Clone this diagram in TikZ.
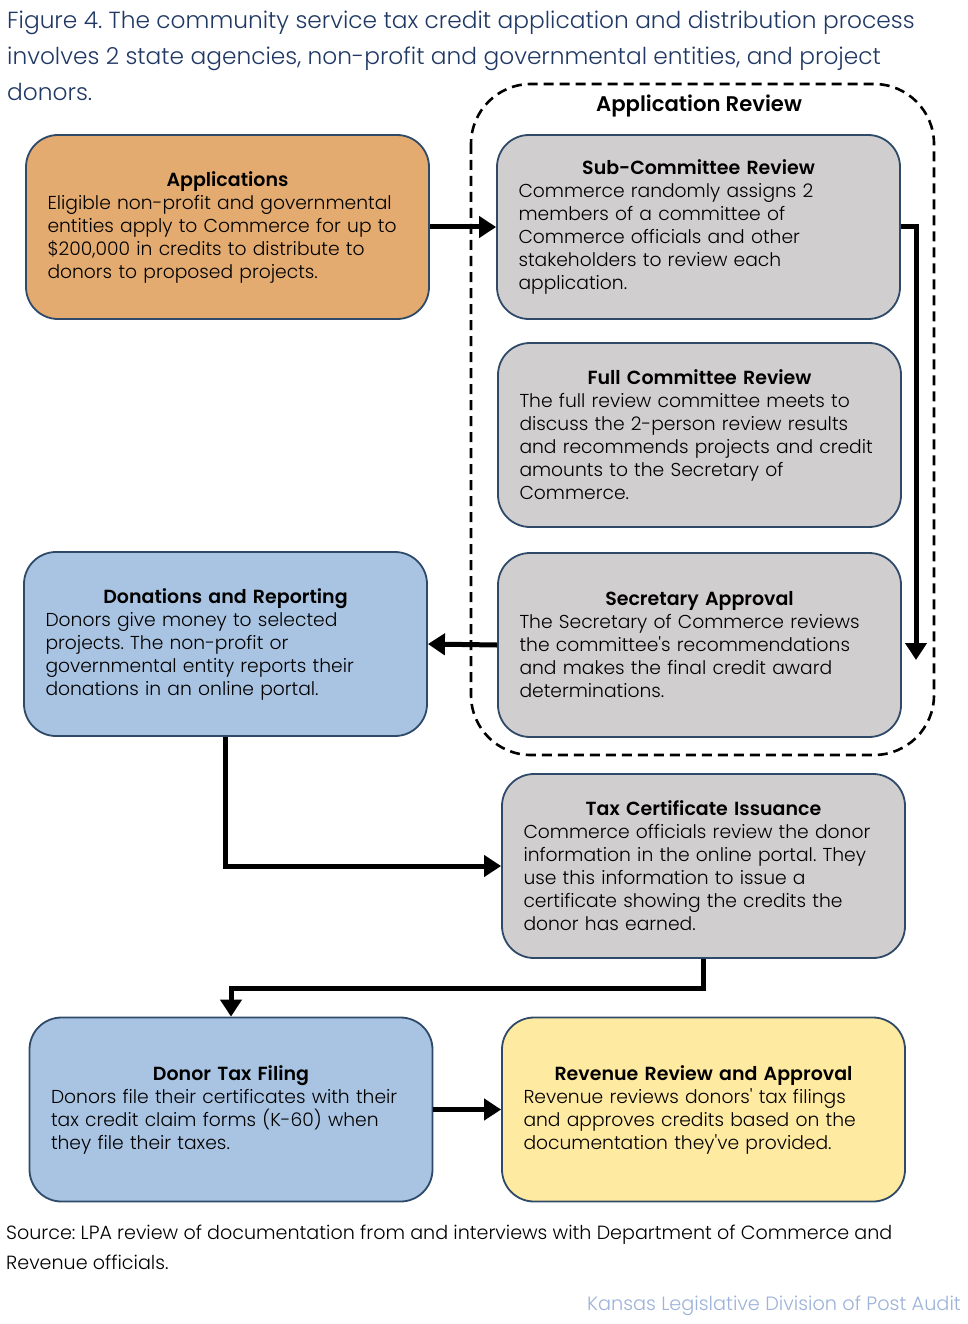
\documentclass[tikz,border=0pt]{standalone}
\usepackage{fontspec}
\setmainfont{Poppins}[UprightFont=* Light, BoldFont=* SemiBold]
\usetikzlibrary{arrows.meta}
\frenchspacing
\definecolor{bordc}{HTML}{2E4A68}
\definecolor{orangec}{HTML}{E3AB6F}
\definecolor{greyc}{HTML}{D0CECE}
\definecolor{bluec}{HTML}{A9C4E2}
\definecolor{yellowc}{HTML}{FFEAA1}
\definecolor{titlec}{HTML}{203864}
\definecolor{footc}{HTML}{9CB2D8}
\tikzset{
  box/.style={draw=bordc, line width=1.8pt, rounded corners=32pt,
    minimum width=403pt, minimum height=184pt, text width=360pt,
    inner sep=0pt, font=\fontsize{18.7}{23}\selectfont},
  conn/.style={line width=5pt, -{Triangle[length=17pt,width=21pt]}},
  grp/.style={draw, line width=2.6pt, dash pattern=on 10pt off 6pt, rounded corners=60pt},
  hd/.style={font=\fontsize{21.2}{23}\selectfont\bfseries}
}
\newcommand{\bt}[1]{\lineskiplimit=-50pt\centering{\fontsize{19}{23}\selectfont\bfseries #1}\par\raggedright}
\newcommand{\ap}{\textquotesingle}
\begin{document}
\begin{tikzpicture}[x=1pt,y=-1pt]
\useasboundingbox (0,0) rectangle (968,1324);
% caption
\node[anchor=base west, inner sep=0pt, text=titlec, font=\fontsize{23.3}{36}\selectfont] (cap1) at (7,29) {Figure 4. The community service tax credit application and distribution process};
\node[anchor=base west, inner sep=0pt, text=titlec, font=\fontsize{23.3}{36}\selectfont] (cap2) at (7,65) {involves 2 state agencies, non-profit and governmental entities, and project};
\node[anchor=base west, inner sep=0pt, text=titlec, font=\fontsize{23.3}{36}\selectfont] (cap3) at (7,101) {donors.};
% group
\draw[grp] (471,84) rectangle (934,755);
\node[hd] (grplab) at (699,106) {Application Review};
% boxes
\node[box, fill=orangec] (app) at (227.5,227) {\bt{Applications}
Eligible non-profit and governmental\\
entities apply to Commerce for up to\\
\$200,000 in credits to distribute to\\
donors to proposed projects.};
\node[box, fill=greyc] (sub) at (698.5,227) {\bt{Sub-Committee Review}
Commerce randomly assigns 2\\
members of a committee of\\
Commerce officials and other\\
stakeholders to review each\\
application.};
\node[box, fill=greyc] (full) at (699.5,435) {\bt{Full Committee Review}
The full review committee meets to\\
discuss the 2-person review results\\
and recommends projects and credit\\
amounts to the Secretary of\\
Commerce.};
\node[box, fill=greyc] (sec) at (699.5,645) {\bt{Secretary Approval}
The Secretary of Commerce reviews\\
the committee\ap s recommendations\\
and makes the final credit award\\
determinations.};
\node[box, fill=bluec] (don) at (225.5,644) {\bt{Donations and Reporting}
Donors give money to selected\\
projects. The non-profit or\\
governmental entity reports their\\
donations in an online portal.};
\node[box, fill=greyc] (tax) at (703.5,866) {\bt{Tax Certificate Issuance}
Commerce officials review the donor\\
information in the online portal. They\\
use this information to issue a\\
certificate showing the credits the\\
donor has earned.};
\node[box, fill=bluec] (dtf) at (231,1109.5) {\bt{Donor Tax Filing}
Donors file their certificates with their\\
tax credit claim forms (K-60) when\\
they file their taxes.};
\node[box, fill=yellowc] (rev) at (703.5,1109.5) {\bt{Revenue Review and Approval}
Revenue reviews donors\ap\ tax filings\\
and approves credits based on the\\
documentation they\ap ve provided.};
% connectors
\coordinate (c1) at (916,660);
\draw[conn] (app.east) -- (sub.west);
\draw[conn] (sub.east) -| (c1);
\draw[conn] (sec.west) -- (don.east);
\draw[conn] (don.south) |- (tax.west);
\draw[conn] (tax.south) -- ++(0,30) -| (dtf.north);
\draw[conn] (dtf.east) -- (rev.west);
% source
\node[anchor=base west, inner sep=0pt, font=\fontsize{19.1}{30}\selectfont] (src1) at (6,1239) {Source: LPA review of documentation from and interviews with Department of Commerce and};
\node[anchor=base west, inner sep=0pt, font=\fontsize{19.1}{30}\selectfont] (src2) at (6,1269) {Revenue officials.};
\node[anchor=base east, inner sep=0pt, text=footc, font=\fontsize{19.3}{20}\selectfont] (foot) at (961,1310) {Kansas Legislative Division of Post Audit};
\end{tikzpicture}
\end{document}
